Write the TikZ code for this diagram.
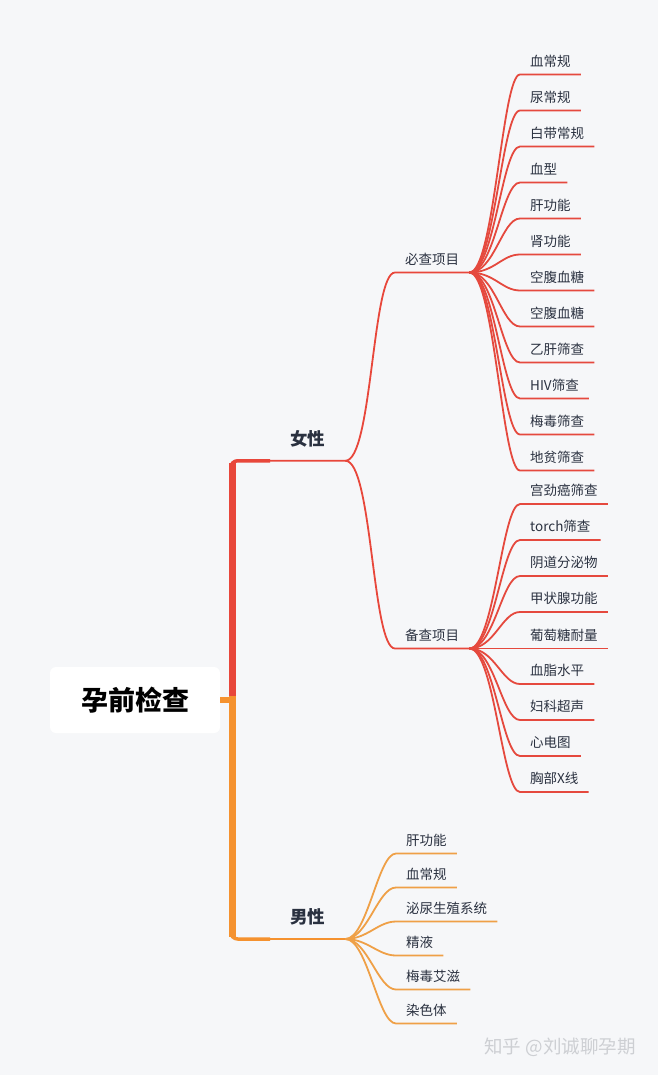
\documentclass[tikz,border=0pt]{standalone}
\usepackage{fontspec}
\setmainfont{Noto Sans CJK SC}
\usetikzlibrary{calc}
\definecolor{cred}{HTML}{E8473B}
\definecolor{corange}{HTML}{F5922F}
\definecolor{cleaf}{HTML}{E5493E}
\definecolor{cmleaf}{HTML}{EFA047}
\definecolor{ctext}{HTML}{2A3140}
\definecolor{cbg}{HTML}{F6F7F9}
\definecolor{cwater}{HTML}{CDCFD3}
\tikzset{
  every picture/.style={x=1pt, y=-1pt},
  root/.style={fill=white, rounded corners=6pt, minimum width=170pt, minimum height=66pt, font=\fontsize{27}{30}\selectfont\bfseries, text=black},
  sex/.style={anchor=south west, inner xsep=20pt, inner ysep=2pt, text height=13pt, text depth=13.4pt, font=\fontsize{17.5}{20}\selectfont\bfseries, text=ctext},
  item/.style={anchor=south west, inner xsep=10pt, inner ysep=2pt, text height=11pt, text depth=5.9pt, font=\fontsize{13.5}{16}\selectfont, text=ctext},
  twig/.style={draw=#1, line width=1.8pt},
  twig/.default=cleaf,
  wmark/.style={font=\fontsize{18.5}{20}\selectfont, text=cwater},
}
\begin{document}
\begin{tikzpicture}
  \path[use as bounding box, fill=cbg] (0,0) rectangle (658,1075);

  \node[root] (root) at (135,700) {孕前检查};
  \coordinate (jn) at (232.5,696);

  \node[sex] (fem) at (270,460.75) {女性};
  \node[sex] (mal) at (270,939) {男性};

  \node[item] (must) at (395,272.5) {必查项目};
  \node[item] (opt) at (395,648.5) {备查项目};

  % required checks
  \node[item] (m1) at (520,74.5) {血常规};
  \node[item] (m2) at (520,110.5) {尿常规};
  \node[item] (m3) at (520,146.5) {白带常规};
  \node[item] (m4) at (520,182.5) {血型};
  \node[item] (m5) at (520,218.5) {肝功能};
  \node[item] (m6) at (520,254.5) {肾功能};
  \node[item] (m7) at (520,290.5) {空腹血糖};
  \node[item] (m8) at (520,326.5) {空腹血糖};
  \node[item] (m9) at (520,362.5) {乙肝筛查};
  \node[item] (m10) at (520,398.5) {HIV筛查};
  \node[item] (m11) at (520,434.5) {梅毒筛查};
  \node[item] (m12) at (520,470.5) {地贫筛查};

  % optional checks
  \node[item] (o1) at (520,504) {宫劲癌筛查};
  \node[item] (o2) at (520,540) {torch筛查};
  \node[item] (o3) at (520,576) {阴道分泌物};
  \node[item] (o4) at (520,612) {甲状腺功能};
  \node[item] (o5) at (520,648.5) {葡萄糖耐量};
  \node[item] (o6) at (520,684) {血脂水平};
  \node[item] (o7) at (520,720) {妇科超声};
  \node[item] (o8) at (520,756) {心电图};
  \node[item] (o9) at (520,792) {胸部X线};

  % male checks
  \node[item] (n1) at (396,853.5) {肝功能};
  \node[item] (n2) at (396,887.5) {血常规};
  \node[item] (n3) at (396,921.5) {泌尿生殖系统};
  \node[item] (n4) at (396,955.5) {精液};
  \node[item] (n5) at (396,989.5) {梅毒艾滋};
  \node[item] (n6) at (396,1023.5) {染色体};

  \node[wmark] (wm) at (560,1047) {知乎 @刘诚聊孕期};

  % trunk
  \draw[corange, line width=6.5pt] (root.east) -- (root.east -| jn);
  \draw[cred, line width=7pt] (jn) -- ($(jn |- fem.south west)+(0,2.5)$);
  \draw[cred, line width=3.5pt, rounded corners=7pt] ($(jn |- fem.south west)+(-1.75,12)$) |- (fem.south west);
  \draw[corange, line width=7pt] (jn) -- ($(jn |- mal.south west)+(0,-2.5)$);
  \draw[corange, line width=3.5pt, rounded corners=7pt] ($(jn |- mal.south west)+(-1.75,-12)$) |- (mal.south west);

  % branches
  \draw[twig=cred] (fem.south west) -- (fem.south east) .. controls +(27,0) and +(-23,0) .. (must.south west) -- (must.south east);
  \draw[twig=cred] (fem.south east) .. controls +(27,0) and +(-23,0) .. (opt.south west) -- (opt.south east);
  \draw[twig=corange] (mal.south west) -- (mal.south east);

  \foreach \i in {1,...,12}
    \draw[twig] (must.south east) .. controls +(25,0) and +(-18,0) .. (m\i.south west) -- (m\i.south east);
  \foreach \i in {1,...,9}
    \draw[twig] (opt.south east) .. controls +(25,0) and +(-18,0) .. (o\i.south west) -- (o\i.south east);
  \foreach \i in {1,...,6}
    \draw[twig=cmleaf] (mal.south east) .. controls +(22,0) and +(-18,0) .. (n\i.south west) -- (n\i.south east);
\end{tikzpicture}
\end{document}
